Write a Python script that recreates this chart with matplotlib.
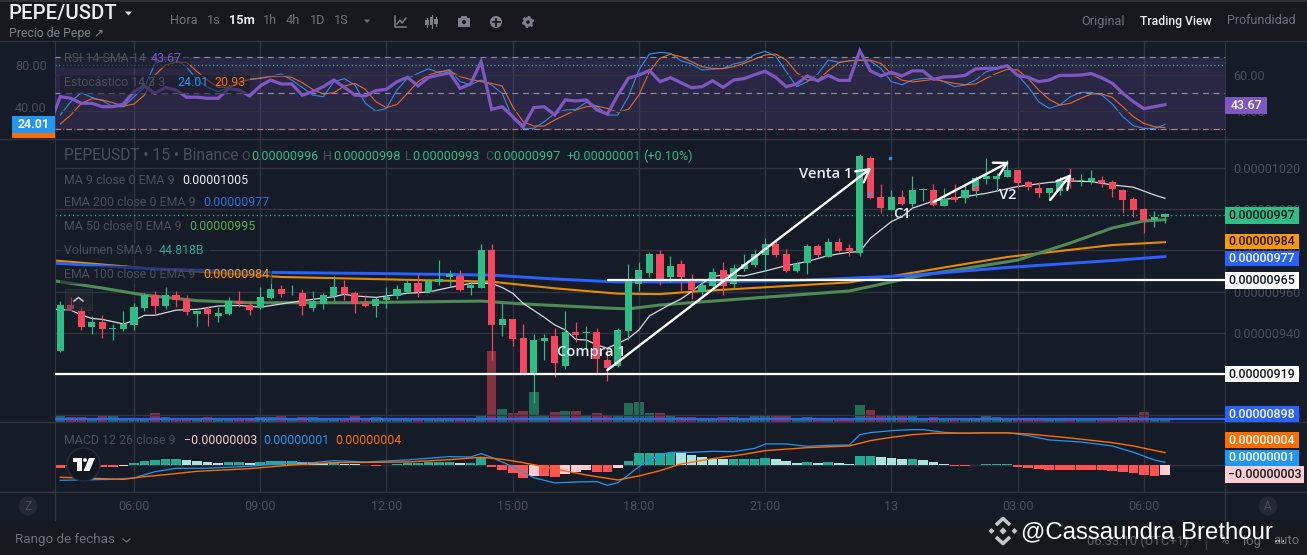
import matplotlib
matplotlib.use("Agg")
import matplotlib.pyplot as plt
from matplotlib.patches import Rectangle, Circle, Polygon

# ============================================================
# DATA (prices in 1e-8 USDT, one entry per 15m bar)
# ============================================================
candle_open = [931.2, 953.3, 950.6, 942.8, 945.2, 941.8, 941.8, 943.8, 952.0, 958.3, 953.0, 958.3, 956.4, 949.3, 951.6,
               948.2, 949.1, 955.4, 953.5, 952.0, 956.7, 961.3, 959.2, 959.3, 952.0, 954.0, 957.7, 962.2, 959.3, 954.3,
               953.0, 955.9, 957.9, 959.8, 964.2, 959.8, 964.7, 967.1, 967.6, 961.7, 961.7, 980.2, 943.8, 946.7, 937.5,
               920.3, 936.0, 938.4, 923.9, 940.4, 939.9, 940.4, 926.8, 923.9, 940.9, 963.7, 968.9, 978.3, 967.1, 973.4,
               965.2, 959.9, 962.8, 970.5, 963.7, 971.0, 973.0, 977.8, 983.1, 978.3, 970.0, 973.9, 982.2, 976.8, 984.1,
               981.2, 978.8, 1024.9, 1006.0, 999.6, 1006.0, 1002.6, 1009.4, 1009.2, 1001.6, 1006.0, 1005.5, 1008.9,
               1014.7, 1014.7, 1015.7, 1019.0, 1013.2, 1010.3, 1007.9, 1008.9, 1015.2, 1013.7, 1013.7, 1014.2, 1013.2,
               1009.4, 1005.0, 1000.1, 994.8, 996.3]
candle_close = [953.5, 951.4, 943.0, 945.2, 941.8, 942.2, 944.4, 952.4, 958.3, 953.0, 958.3, 956.1, 950.1, 950.4, 949.3,
                949.4, 955.4, 954.0, 951.0, 957.4, 961.3, 958.8, 959.5, 953.0, 955.4, 958.3, 962.2, 958.7, 954.0, 953.0,
                956.4, 957.4, 961.3, 964.2, 959.8, 965.1, 966.1, 968.5, 960.8, 963.2, 980.2, 943.8, 946.7, 937.0, 920.0,
                936.5, 937.5, 925.3, 940.4, 938.9, 940.4, 927.3, 922.9, 941.4, 965.6, 970.5, 978.3, 966.0, 972.5, 967.1,
                960.7, 963.2, 969.6, 962.8, 971.5, 973.4, 978.3, 983.1, 977.8, 970.0, 973.4, 982.2, 977.8, 984.1, 979.8,
                979.8, 1025.9, 1005.5, 1000.6, 1006.0, 1002.6, 1009.4, 1009.8, 1002.0, 1005.0, 1004.5, 1009.4, 1015.0,
                1016.2, 1016.2, 1019.0, 1012.8, 1010.8, 1007.9, 1010.3, 1014.2, 1013.7, 1014.2, 1015.2, 1012.8, 1009.8,
                1004.5, 999.6, 994.8, 996.3, 997.5]
candle_high = [955.4, 957.5, 952.4, 948.2, 948.6, 944.3, 950.4, 954.3, 959.2, 960.3, 962.0, 960.3, 958.3, 950.4, 953.0,
               952.4, 957.4, 960.3, 955.4, 962.2, 968.9, 963.2, 963.2, 961.3, 960.3, 959.3, 967.6, 965.6, 960.5, 958.3,
               957.5, 962.2, 963.2, 966.0, 968.5, 966.0, 975.3, 970.5, 970.5, 965.1, 983.1, 983.1, 954.5, 946.7, 944.3,
               939.4, 939.4, 942.3, 950.6, 945.2, 943.3, 942.3, 932.0, 942.3, 973.4, 974.4, 979.1, 980.2, 977.3, 975.4,
               968.6, 966.0, 971.5, 974.4, 973.4, 978.3, 980.2, 986.0, 984.6, 980.7, 974.4, 983.1, 983.1, 986.0, 986.0,
               983.1, 1026.8, 1025.9, 1012.3, 1009.4, 1009.4, 1016.2, 1010.2, 1012.3, 1010.3, 1012.3, 1012.3, 1016.2,
               1024.9, 1017.6, 1024.0, 1019.0, 1013.7, 1013.2, 1010.3, 1015.7, 1020.0, 1017.1, 1019.0, 1016.2, 1014.2,
               1009.9, 1006.0, 1000.6, 999.2, 998.0]
candle_low = [930.8, 951.0, 941.4, 939.4, 937.5, 936.5, 941.0, 941.4, 950.6, 948.6, 951.7, 952.7, 948.6, 943.3, 943.3,
              945.4, 948.5, 952.7, 948.6, 951.7, 956.2, 957.5, 958.2, 948.6, 950.6, 951.6, 955.4, 955.9, 949.8, 952.4,
              947.7, 951.9, 956.2, 959.2, 957.5, 959.2, 963.2, 962.2, 960.4, 958.3, 961.7, 926.8, 938.4, 933.6, 920.0,
              905.8, 926.8, 918.7, 922.4, 935.5, 932.6, 920.3, 916.6, 923.6, 936.5, 960.3, 967.0, 963.0, 964.9, 960.0,
              956.4, 958.4, 960.3, 958.4, 961.3, 970.0, 972.0, 970.0, 977.0, 969.7, 969.6, 968.6, 976.8, 976.8, 979.3,
              977.3, 977.3, 1004.8, 998.2, 999.6, 1002.1, 1000.6, 1004.0, 1001.6, 1001.6, 1003.4, 1003.0, 1006.0,
              1012.3, 1008.9, 1015.7, 1010.3, 1009.4, 1006.0, 1004.5, 1006.9, 1010.2, 1011.3, 1012.3, 1010.8, 1006.0,
              998.2, 996.3, 988.5, 991.4, 993.3]
volume_b = [14, 10, 10, 8, 14, 14, 6, 6, 6, 18, 10, 6, 8, 6, 10, 6, 6, 6, 6, 10, 10, 12, 6, 10, 10, 6, 6, 6, 14, 6,
            10, 6, 6, 6, 6, 6, 6, 6, 6, 6, 14, 142, 26, 18, 22, 60, 14, 20, 22, 22, 14, 18, 14, 14, 38, 40, 18, 18,
            14, 10, 10, 6, 6, 10, 10, 6, 14, 14, 12, 12, 6, 10, 6, 6, 6, 8, 34, 24, 14, 12, 12, 12, 6, 10, 6, 6, 6,
            6, 14, 10, 6, 6, 6, 6, 6, 6, 6, 6, 6, 6, 6, 10, 10, 20, 6, 6]

ma9_bars = [-1, 1, 2, 3, 4, 6, 7, 8, 9, 11, 13, 15, 17, 19, 23, 26, 27, 28, 30, 33, 35, 37, 39, 41, 42, 43, 44, 46, 47,
            48, 49, 50, 51, 52, 54, 55, 56, 58, 59, 60, 61, 62, 63, 65, 67, 69, 71, 73, 75, 76, 77, 79, 80, 81, 83, 86,
            88, 91, 94, 96, 98, 100, 102, 104, 105]
ma9_vals = [951.6, 951.0, 948.6, 947.0, 946.5, 944.3, 946.0, 948.5, 948.5, 951.0, 951.4, 953.0, 953.3, 952.4, 955.6,
            957.5, 958.7, 957.9, 957.2, 959.2, 959.8, 962.0, 964.0, 964.0, 962.0, 959.2, 954.3, 947.5, 943.8, 941.4,
            936.8, 936.5, 934.1, 932.5, 937.3, 941.4, 948.2, 953.9, 956.4, 960.0, 964.0, 967.3, 968.1, 967.6, 970.0,
            972.6, 974.6, 977.5, 979.1, 979.4, 985.9, 994.0, 996.4, 1000.5, 1004.0, 1006.1, 1007.7, 1011.0, 1013.0,
            1013.7, 1013.4, 1011.8, 1010.7, 1006.9, 1005.3]
ema200_bars = [-1, 9, 20, 30, 41, 47, 53, 60, 70, 80, 90, 100, 105]
ema200_vals = [973.9, 971.0, 969.3, 968.8, 968.0, 966.1, 964.7, 964.7, 965.4, 967.6, 971.7, 975.1, 977.0]
ema100_bars = [-1, 9, 21, 28, 41, 47, 53, 57, 61, 75, 80, 90, 100, 105]
ema100_vals = [975.3, 971.0, 967.1, 966.3, 964.8, 961.6, 959.0, 958.8, 960.3, 964.5, 968.3, 976.8, 982.6, 984.0]
ma50_bars = [-1, 4, 8, 13, 18, 28, 40, 44, 52, 54, 57, 75, 82, 91, 96, 100, 103, 105]
ma50_vals = [965.6, 961.7, 958.3, 955.6, 954.6, 954.6, 955.4, 954.0, 952.0, 951.6, 953.5, 960.3, 968.0, 975.3, 983.6,
             990.9, 994.3, 994.9]

buy_level = 920.2
sell_level = 965.4
sell_level_from = 52
low_level = 898.3
last_price = 997.0

# drawn arrows: (bar, price) -> (bar, price)
arrow_from = [(52.0, 921.9), (83.0, 1003.5), (94.1, 1004.5)]
arrow_to = [(77.1, 1020.1), (90.2, 1023.0), (96.1, 1017.1)]

hist_vals = [-0.8, -0.3, -0.2, -0.3, -0.4, -0.4, -0.2, 0.7, 1.5, 1.8, 2.0, 2.0, 1.6, 1.4, 1.0, 0.7, 1.0, 1.0, 0.7, 1.0,
             1.4, 1.4, 1.4, 1.0, 0.9, 0.8, 0.9, 0.5, 0.4, 0.2, -0.1, 0.2, 0.5, 0.7, 0.8, 1.0, 1.0, 1.0, 0.7, 0.8, 2.3,
             -0.6, -1.5, -2.4, -4.0, -3.4, -3.4, -3.8, -2.7, -2.1, -1.5, -2.0, -2.1, -0.8, 1.4, 4.0, 4.0, 4.0, 4.0, 3.7,
             3.1, 2.5, 2.1, 2.0, 2.0, 2.0, 2.1, 2.3, 2.0, 1.4, 0.7, 1.0, 0.8, 1.0, 0.7, 0.5, 2.9, 2.9, 2.6, 2.3, 2.0,
             2.0, 1.7, 1.1, 0.5, -0.1, -0.1, 0.1, 0.4, 0.4, 0.4, -0.5, -0.8, -1.1, -1.5, -1.5, -1.5, -1.5, -1.5, -1.5,
             -1.8, -2.1, -2.5, -3.1, -3.3, -3.0]
macd_bars = [0, 5, 7, 9, 11, 14, 18, 21, 24, 26, 29, 33, 37, 39, 40, 41, 43, 45, 47, 49, 51, 52, 53, 54, 55, 56, 57, 58,
             60, 62, 64, 66, 67, 69, 71, 73, 75, 76, 77, 79, 81, 82, 84, 86, 88, 90, 92, 94, 97, 100, 102, 104, 105]
macd_vals = [-4.69, -4.38, -3.96, -1.98, -0.94, -0.94, -0.31, 0.63, 0.83, 1.46, 1.04, 1.67, 2.71, 2.6, 3.65, 2.5, -0.42,
             -3.85, -5.52, -5.21, -5.1, -6.25, -5.42, -3.02, -0.42, 1.67, 3.23, 4.06, 4.06, 4.38, 4.27, 5.31, 6.67, 6.67,
             5.94, 6.25, 6.35, 9.58, 10.21, 10.83, 11.15, 11.15, 10.31, 10.0, 10.21, 10.21, 9.27, 7.92, 7.29, 6.04, 4.06,
             1.67, 0.94]
signal_bars = [0, 4, 6, 8, 10, 13, 18, 22, 26, 33, 37, 40, 42, 44, 47, 50, 53, 55, 56, 57, 59, 62, 65, 67, 71, 75, 77,
               79, 81, 83, 88, 90, 92, 96, 100, 102, 105]
signal_vals = [-3.75, -4.17, -4.38, -3.54, -2.92, -1.88, -1.04, 0.1, 0.83, 1.04, 1.77, 2.5, 1.88, 0.83, -1.15, -3.02,
               -4.58, -3.33, -2.5, -1.67, 0.42, 2.08, 3.44, 4.58, 5.52, 6.04, 7.71, 8.75, 9.58, 10.0, 10.1, 10.1, 9.79,
               8.54, 7.08, 6.04, 3.96]

# RSI starts one bar before the first candle, off the left edge
rsi_vals = [33.2, 48.1, 47.2, 44.4, 44.4, 42.5, 42.5, 44.0, 50.9, 54.1, 50.0, 53.3, 51.8, 47.8, 47.8, 47.2, 47.2, 52.6,
            51.8, 48.5, 54.1, 57.4, 55.2, 55.2, 48.9, 50.9, 53.7, 57.4, 53.3, 49.0, 48.5, 51.5, 52.2, 56.5, 58.9, 54.1,
            58.9, 60.2, 61.5, 52.8, 55.2, 67.7, 41.0, 42.5, 37.0, 31.4, 42.0, 42.5, 37.9, 46.3, 45.7, 46.3, 40.7, 38.4,
            49.0, 58.4, 60.2, 62.7, 56.5, 58.7, 55.9, 53.1, 53.7, 57.0, 53.3, 57.4, 58.2, 60.4, 62.3, 58.9, 53.7, 55.2,
            59.7, 56.9, 60.0, 57.2, 57.2, 73.8, 62.5, 59.7, 61.7, 59.7, 62.5, 62.5, 57.8, 59.1, 59.3, 60.0, 63.6, 63.95,
            63.95, 65.4, 60.0, 58.9, 56.5, 57.4, 60.0, 60.0, 60.2, 61.0, 58.6, 55.6, 50.0, 45.3, 41.4, 42.5, 43.67]
stoch_k = [32.9, 45.4, 53.9, 49.5, 46.4, 40.7, 40.7, 50.1, 58.9, 81.5, 85.3, 84.7, 78.4, 65.8, 58.9, 54.9, 58.9, 64.3,
           66.5, 67.7, 69.6, 71.5, 65.8, 58.9, 51.7, 50.1, 64.3, 67.1, 61.1, 43.9, 36.6, 39.15, 56.4, 67.4, 72.1, 76.5,
           72.7, 75.9, 64.3, 61.4, 65.8, 61.1, 53.3, 29.7, 20.3, 20.3, 26.6, 34.4, 37.6, 38.2, 44.8, 41.3, 32.9, 32.9,
           50.1, 75.3, 90.3, 91.9, 91.0, 84.0, 80.9, 75.3, 76.2, 76.8, 80.9, 83.1, 90.0, 92.8, 88.4, 73.7, 59.6, 64.3,
           71.5, 84.7, 82.5, 84.0, 84.7, 83.7, 76.8, 64.3, 61.4, 65.8, 67.4, 67.4, 64.3, 59.6, 61.1, 65.8, 73.7, 76.2,
           79.0, 70.5, 59.6, 45.4, 39.15, 42.3, 50.1, 54.2, 54.2, 51.7, 43.2, 31.3, 22.8, 20.3, 20.3, 24.01]
stoch_d = [24.4, 32.9, 43.9, 48.3, 47.0, 44.5, 41.3, 43.2, 51.7, 70.5, 80.0, 82.5, 82.5, 73.7, 65.8, 58.9, 58.9, 62.7,
           66.5, 67.4, 69.0, 69.6, 68.4, 63.3, 57.0, 52.7, 53.9, 60.2, 62.7, 57.0, 45.4, 39.8, 42.9, 53.3, 64.3, 70.5,
           73.7, 74.6, 69.0, 66.5, 64.3, 62.7, 60.2, 40.7, 26.6, 22.5, 22.5, 28.2, 32.9, 37.6, 40.7, 41.3, 39.15, 35.4,
           38.2, 51.7, 73.7, 86.3, 90.3, 87.8, 83.1, 78.4, 76.8, 76.5, 78.4, 81.5, 85.6, 89.4, 90.3, 84.7, 72.7, 65.8,
           65.8, 74.6, 82.2, 84.0, 84.4, 84.7, 81.5, 71.5, 65.8, 64.0, 65.2, 66.5, 64.6, 62.7, 61.4, 62.1, 67.4, 72.1,
           75.9, 75.3, 67.4, 56.4, 47.6, 42.3, 43.9, 48.6, 52.7, 52.7, 49.5, 40.7, 31.3, 25.0, 21.9, 20.93]

time_ticks = [7, 19, 31, 43, 55, 67, 79, 91, 103]
time_labels = ["06:00", "09:00", "12:00", "15:00", "18:00", "21:00", "13", "03:00", "06:00"]
price_ticks = [1020, 1000, 980, 960, 940, 920, 900]
price_labels = ["0.00001020", "0.00001000", "0.00000980", "0.00000960", "0.00000940", "0.00000920", "0.00000900"]

# ============================================================
# STYLE
# ============================================================
W, H = 1307, 555
BG = "#161c27"
BAR_BG = "#16181d"
GRID = "#2f343f"
MUTED = "#4b505b"
SOFT = "#7c818a"
UP = "#2ebd85"
DOWN = "#f6465d"
BLUE = "#2962ff"
ORANGE = "#ff9800"
GREEN = "#4f8a57"
K_BLUE = "#2196f3"
D_ORANGE = "#ff6d00"
PURPLE = "#7e57c2"
FONT = "Roboto"

plt.rcParams["font.family"] = FONT

fig = plt.figure(figsize=(W / 100, H / 100), dpi=100, facecolor=BG)


def panel(top, bottom):
    ax = fig.add_axes([55 / W, 1 - bottom / H, 1170 / W, (bottom - top) / H], facecolor=BG)
    ax.set_xlim(-0.504, 110.71)
    ax.set_xticks(time_ticks)
    ax.tick_params(length=0, labelbottom=False)
    ax.grid(True, axis="x", color=GRID, lw=1)
    ax.set_axisbelow(True)
    for side, spine in ax.spines.items():
        spine.set_visible(side in ("left", "right"))
        spine.set_color(GRID)
    return ax


# --- oscillator panel ------------------------------------------------
ax_stoch = panel(41, 139)
ax_stoch.set_ylim(10.3, 102.6)
ax_stoch.set_yticks([80, 40])
ax_stoch.set_yticklabels(["80.00", "40.00"], color=MUTED, fontsize=9)
ax_stoch.tick_params(axis="y", pad=6)
ax_stoch.axhline(80, color=UP, lw=0.9, ls=(0, (1, 2)), zorder=1)
ax_stoch.axhline(20, color="#f23645", lw=0.9, ls=(0, (1, 2)), zorder=1)
ax_stoch.plot(range(106), stoch_k, color=K_BLUE, lw=0.8, zorder=2)
ax_stoch.plot(range(106), stoch_d, color=D_ORANGE, lw=0.8, zorder=2)

ax_rsi = ax_stoch.twinx()
ax_rsi.set_ylim(24.47, 79.2)
ax_rsi.set_yticks([60, 40])
ax_rsi.set_yticklabels(["60.00", "40.00"], color=MUTED, fontsize=9)
ax_rsi.tick_params(axis="y", length=0, pad=6)
ax_rsi.grid(True, axis="y", color=GRID, lw=1)
ax_rsi.set_axisbelow(True)
for spine in ax_rsi.spines.values():
    spine.set_visible(False)
ax_rsi.axhspan(30, 70, color=PURPLE, alpha=0.2, lw=0, zorder=0)
for level in (70, 50, 30):
    ax_rsi.axhline(level, color="#8a8d96", lw=0.85, ls=(0, (5, 4)), zorder=1)
ax_rsi.plot(range(-1, 106), rsi_vals, color=PURPLE, lw=2.3, zorder=3, solid_joinstyle="miter")

# --- price panel -----------------------------------------------------
ax_price = panel(139, 422)
ax_price.set_ylim(896.7, 1034.08)
ax_price.set_yticks(price_ticks)
ax_price.grid(True, axis="y", color=GRID, lw=1)

ax_vol = ax_price.twinx()
ax_vol.set_ylim(0, 566)
ax_vol.set_yticks([])
ax_vol.set_zorder(ax_price.get_zorder() - 1)
ax_price.patch.set_visible(False)
ax_vol.patch.set_facecolor(BG)
ax_vol.patch.set_visible(True)
for spine in ax_vol.spines.values():
    spine.set_visible(False)

# twinx moved the price ticks to the left, put them back
ax_price.yaxis.tick_right()
ax_price.set_yticklabels(price_labels, color=MUTED, fontsize=9)
ax_price.tick_params(axis="y", length=0, pad=6)

bars = list(range(106))
is_up = [c >= o for o, c in zip(candle_open, candle_close)]
colors = [UP if u else DOWN for u in is_up]
ax_vol.bar(bars, volume_b, width=0.92, color=colors, alpha=0.5, lw=0)

ax_price.plot(ema100_bars, ema100_vals, color=ORANGE, lw=1.5, alpha=0.9, zorder=2)
ax_price.plot(ma50_bars, ma50_vals, color=GREEN, lw=2.2, zorder=2)
ax_price.plot(ema200_bars, ema200_vals, color=BLUE, lw=2.1, zorder=2)
ax_price.plot(ma9_bars, ma9_vals, color="#d8d9dc", lw=0.9, zorder=2)

ax_price.vlines(bars, candle_low, candle_high, colors=colors, lw=0.85, zorder=3)
ax_price.bar(bars, [abs(c - o) for o, c in zip(candle_open, candle_close)],
             bottom=[min(o, c) for o, c in zip(candle_open, candle_close)],
             width=0.68, color=colors, lw=0, zorder=3)

ax_price.axhline(last_price, color=UP, lw=0.9, ls=(0, (1, 2.5)), zorder=2)
ax_price.axhline(low_level, color=BLUE, lw=1.6, zorder=4)
ax_price.axhline(buy_level, color="white", lw=1.6, zorder=5)
ax_price.hlines(sell_level, sell_level_from, 110.71, color="white", lw=1.6, zorder=5)
for start, end in zip(arrow_from, arrow_to):
    ax_price.annotate("", xy=end, xytext=start, zorder=6,
                      arrowprops=dict(arrowstyle="->,head_length=0.9,head_width=0.5", color="white", lw=1.7,
                                      shrinkA=0, shrinkB=0))
ax_price.plot([78.9, 76.9], [1025.0, 1007.3], ls="", marker="s", ms=1.8, color=K_BLUE, zorder=6)
ax_price.plot([87], [1010.2], ls="", marker="o", ms=3, color=DOWN, zorder=6)

for s, x, y in [("Venta 1", 70.2, 1017.0), ("C1", 79.2, 997.7), ("V2", 89.2, 1006.9), ("Compra 1", 47.2, 930.7)]:
    ax_price.text(x, y, s, color="#eceef1", fontsize=10.6, ha="left", va="center", zorder=7, family="Open Sans",
                  fontweight="semibold")

# --- MACD panel ------------------------------------------------------
ax_macd = panel(422, 492)
ax_macd.set_ylim(-8.34, 13.53)
ax_macd.set_yticks([0])
ax_macd.set_yticklabels([""])
ax_macd.grid(True, axis="y", color=GRID, lw=1)
ax_macd.set_xticklabels(time_labels, color=MUTED, fontsize=9)
ax_macd.tick_params(axis="x", labelbottom=True, pad=6)

hist_colors = []
prev = hist_vals[0]
for v in hist_vals:
    if v >= 0:
        hist_colors.append("#22ab94" if v >= prev else "#ace5dc")
    else:
        hist_colors.append("#ffcdd2" if v > prev else "#ff5252")
    prev = v
ax_macd.bar(bars, hist_vals, width=0.92, color=hist_colors, lw=0, zorder=2)
ax_macd.plot(macd_bars, macd_vals, color=K_BLUE, lw=0.9, zorder=3)
ax_macd.plot(signal_bars, signal_vals, color=D_ORANGE, lw=1.0, zorder=3)

# --- overlay in pixel coordinates: header, footer, legends, price tags -
ov = fig.add_axes([0, 0, 1, 1], facecolor="none")
ov.set_xlim(0, W)
ov.set_ylim(H, 0)
ov.axis("off")


def label(x, y, s, color=MUTED, size=8.9, ha="left", weight="normal", family=FONT, zorder=10):
    ov.text(x, y, s, color=color, fontsize=size, ha=ha, va="center", fontweight=weight, family=family, zorder=zorder)


def tag(x0, x1, y0, y1, fc, s, tc="white", size=8.9, weight="medium"):
    ov.add_patch(Rectangle((x0, y0), x1 - x0, y1 - y0, fc=fc, lw=0, zorder=9))
    label((x0 + x1) / 2, (y0 + y1) / 2 + 0.3, s, tc, size, "center", weight)


ov.add_patch(Rectangle((0, 0), W, 41, fc=BAR_BG, lw=0, zorder=2))
ov.add_patch(Rectangle((0, 520), W, 35, fc=BAR_BG, lw=0, zorder=2))
ov.plot([0, W], [0.8, 0.8], color="#33363b", lw=1.2, zorder=3)
for y in (41, 139, 422, 492):
    ov.plot([0, W], [y, y], color=GRID, lw=1, zorder=3)
for x in (55, 1225):
    ov.plot([x, x], [492, 520], color=GRID, lw=1, zorder=3)

# dimmed boxes behind the legends
for x0, x1, y0, y1 in [(60, 190, 50, 68), (60, 250, 75, 94), (60, 272, 266, 284), (60, 210, 243, 260)]:
    ov.add_patch(Rectangle((x0, y0), x1 - x0, y1 - y0, fc=BG, alpha=0.55, lw=0, zorder=4))

# header
label(9, 14, "PEPE/USDT", "#eaecef", 14.7, weight="medium")
ov.add_patch(Polygon([(125, 11.5), (132, 11.5), (128.5, 15.5)], fc="#d8dadd", lw=0, zorder=10))
label(9, 33, "Precio de Pepe ↗", SOFT, 8.8, family=["Roboto", "DejaVu Sans"])
for x, s in [(170, "Hora"), (207, "1s"), (263, "1h"), (286, "4h"), (310, "1D"), (334, "1S")]:
    label(x, 21, s, "#6d727b", 9.2)
label(229, 21, "15m", "#eaecef", 9.2, weight="bold")
ov.add_patch(Polygon([(364, 19.5), (370, 19.5), (367, 23), ], fc="#6d727b", lw=0, zorder=10))
# toolbar icons
ICON = "#7c818a"
ov.plot([395, 395, 406], [16, 27, 27], color=ICON, lw=1.1, zorder=10)
ov.plot([397, 400, 402, 406], [24, 20, 23, 18], color=ICON, lw=1.1, zorder=10)
for x, y0, y1, b0, b1 in [(427, 18, 27, 20, 25), (431.5, 15, 28, 17, 25), (436, 17, 26, 19, 24)]:
    ov.plot([x, x], [y0, y1], color=ICON, lw=0.8, zorder=10)
    ov.add_patch(Rectangle((x - 1.7, b0), 3.4, b1 - b0, fc=ICON, lw=0, zorder=10))
ov.add_patch(Rectangle((458, 18), 12, 8.5, fc=ICON, lw=0, zorder=10))
ov.add_patch(Rectangle((461, 16.3), 6, 2, fc=ICON, lw=0, zorder=10))
ov.add_patch(Circle((464, 22), 2, fc=BAR_BG, lw=0, zorder=11))
ov.add_patch(Circle((496, 22), 6, fc=ICON, lw=0, zorder=10))
ov.plot([492.5, 499.5], [22, 22], color=BAR_BG, lw=1.3, zorder=11)
ov.plot([496, 496], [18.5, 25.5], color=BAR_BG, lw=1.3, zorder=11)
ov.add_patch(Circle((528, 22), 4.8, fc=ICON, ec=ICON, lw=1.8, ls=(0, (1, 1)), zorder=10))
ov.add_patch(Circle((528, 22), 1.8, fc=BAR_BG, lw=0, zorder=11))
label(1081, 21, "Original", "#6d727b", 9.2)
label(1140, 21, "Trading View", "#eaecef", 8.8, weight="medium")
label(1227, 21, "Profundidad", "#6d727b", 9.0)

# oscillator legends
label(64, 59, "RSI 14 SMA 14", MUTED)
label(151, 59, "43.67", PURPLE)
label(64, 83, "Estocástico 14 3 3", MUTED)
label(177, 83, "24.01", K_BLUE)
label(214, 83, "20.93", D_ORANGE)

# price legends
label(64, 156, "PEPEUSDT • 15 • Binance", MUTED, 11.2)
for x, s in [(241, "O"), (323, "H"), (405, "L"), (485, "C")]:
    label(x, 156, s, MUTED, 9)
for x, s in [(251, "0.00000996"), (333, "0.00000998"), (412, "0.00000993"), (493, "0.00000997"),
             (566, "+0.00000001"), (643, "(+0.10%)")]:
    label(x, 156, s, UP, 9)
for y, name, value, vx, color in [(180, "MA 9 close 0 EMA 9", "0.00001005", 182, "#eef0f2"),
                                  (203, "EMA 200 close 0 EMA 9", "0.00000977", 203, "#2f6fe0"),
                                  (227, "MA 50 close 0 EMA 9", "0.00000995", 189, "#4caf50"),
                                  (251, "Volumen SMA 9", "44.818B", 159, "#26a69a"),
                                  (275, "EMA 100 close 0 EMA 9", "0.00000984", 203, ORANGE)]:
    label(64, y, name, MUTED)
    label(vx, y, value, color)

# MACD legend
label(64, 440, "MACD 12 26 close 9", MUTED)
label(184, 440, "−0.00000003", "#ffcdd2")
label(263, 440, "0.00000001", K_BLUE)
label(335, 440, "0.00000004", D_ORANGE)

# collapse button
ov.add_patch(Rectangle((65, 289), 27, 21, fc="#2a2e39", alpha=0.45, ec="#3a3f4a", lw=0.8, zorder=6))
ov.plot([74, 78.5, 83], [301, 297.5, 301], color="#c8cad0", lw=1.1, zorder=7)

# right and left price tags
tag(1225, 1299, 207, 224, UP, "0.00000997", "#101418")
tag(1225, 1299, 234, 248.5, ORANGE, "0.00000984", "#101418")
tag(1225, 1299, 251, 266, BLUE, "0.00000977")
tag(1225, 1299, 272, 288.5, "white", "0.00000965", "#101418")
tag(1225, 1299, 366, 382, "white", "0.00000919", "#101418")
tag(1225, 1299, 406, 422, BLUE, "0.00000898")
tag(1225, 1299, 432, 448, D_ORANGE, "0.00000004")
tag(1225, 1299, 449.5, 465.5, K_BLUE, "0.00000001")
tag(1225, 1304, 466, 483, "#ffcdd2", "−0.00000003", "#101418")
tag(1225, 1267, 97, 114, PURPLE, "43.67")
ov.add_patch(Rectangle((12, 133), 43, 5, fc=D_ORANGE, lw=0, zorder=8))
tag(12, 55, 116, 133, K_BLUE, "24.01", weight="bold")

# TradingView badge and round buttons
ov.add_patch(Circle((83.5, 464.5), 16.5, fc="#131722", ec="#2a2e39", lw=1, zorder=8))
ov.add_patch(Polygon([(73, 458), (82, 458), (82, 471), (77, 471), (77, 462), (73, 462)], fc="white", lw=0, zorder=9))
ov.add_patch(Circle((85, 460), 1.9, fc="white", lw=0, zorder=9))
ov.add_patch(Polygon([(89, 458), (95, 458), (89.5, 471), (83.5, 471)], fc="white", lw=0, zorder=9))
ov.add_patch(Circle((28, 506), 9.5, fc="#232834", lw=0, zorder=8))
label(28, 506, "Z", MUTED, 8.6, "center")
ov.add_patch(Circle((1268, 506), 9.5, fc="#232834", lw=0, zorder=8))
label(1268, 506, "A", MUTED, 8.6, "center")

# footer
label(15, 540, "Rango de fechas", "#6d727b", 9.6)
ov.plot([123, 126.5, 130], [539, 542, 539], color="#6d727b", lw=0.9, zorder=10)
label(1087, 541, "06:33:10 (UTC+1)", "#5f6269", 9.4)
ov.plot([1206, 1206], [532, 549], color="#3b3e44", lw=1, zorder=10)
label(1219, 541, "%", "#6d727b", 9.4)
label(1243, 541, "log", "#6d727b", 9.4)
label(1273, 541, "auto", "#6d727b", 9.4)

# watermark
LOGO = "#c4c5c7"
for cx, cy, r in [(1003, 531, 3.6), (991.5, 531, 3.0), (1014.5, 531, 3.0)]:
    ov.add_patch(Polygon([(cx - r, cy), (cx, cy - r), (cx + r, cy), (cx, cy + r)], fc=LOGO, lw=0, zorder=11))
ov.plot([996, 1003, 1010], [525, 518.5, 525], color=LOGO, lw=2.6, zorder=11, solid_capstyle="butt")
ov.plot([996, 1003, 1010], [537, 543.5, 537], color=LOGO, lw=2.6, zorder=11, solid_capstyle="butt")
label(1021, 532, "@Cassaundra Brethour", "white", 17.3, family="Liberation Sans", zorder=12)
label(1274, 538, "...", "#d0d0d0", 11, family="Liberation Sans", zorder=12)

fig.savefig("out.png", dpi=100, facecolor=BG)
plt.close(fig)
print("Plot saved to out.png")
